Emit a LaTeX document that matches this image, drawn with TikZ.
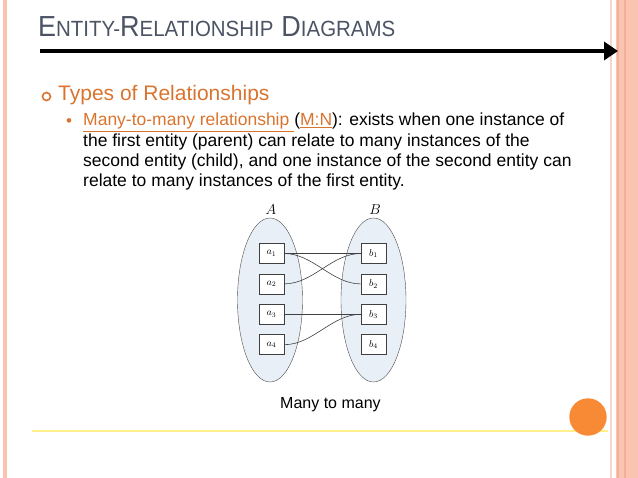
\documentclass[tikz,border=0pt]{standalone}
\usepackage{fontspec}
\setmainfont{Liberation Sans}
\newfontfamily\titlefont[FakeStretch=0.93]{Liberation Sans}
\usepackage{tikz}
\usetikzlibrary{positioning,shapes.geometric,arrows.meta}

\definecolor{titlegray}{HTML}{4B5364}
\definecolor{accent}{HTML}{D9742E}
\definecolor{stripe}{HTML}{FAC4B1}
\definecolor{stripedark}{HTML}{F2AE96}
\definecolor{setfill}{HTML}{E9EFF7}
\definecolor{dotorange}{HTML}{F88A36}
\definecolor{rule}{HTML}{FFF08C}

\newcommand\capsword[2]{{\fontsize{29}{29}\selectfont #1}{\fontsize{22}{22}\selectfont #2}}

\begin{document}
\begin{tikzpicture}[x=1pt, y=-1pt,
  txt/.style={inner sep=0pt, anchor=base west},
  elem/.style={draw=black!75, fill=white, minimum width=25pt, minimum height=20pt, inner sep=0pt, font=\normalsize},
  set/.style={draw=black!70, fill=setfill, ellipse, minimum width=65pt, minimum height=164pt, inner sep=0pt},
  link/.style={draw=black!75, line width=0.6pt}]
\useasboundingbox (0,0) rectangle (638,478);

% page borders
\fill[stripe] (3,0) rectangle (7,478);
\fill[stripe!70] (610,0) rectangle (612,478);
\fill[stripe] (616,0) rectangle (638,478);
\fill[stripedark] (617,0) rectangle (619,478);
\fill[stripedark] (624,0) rectangle (626,478);

% title
\node[txt, text=titlegray, font=\titlefont] (title) at (38,36.5)
  {\capsword{E}{NTITY}\capsword{}{-}\capsword{R}{ELATIONSHIP}\hspace{8pt}\capsword{D}{IAGRAMS}};
\coordinate (arrowstart) at (40,51);
\coordinate (arrowend) at (618,51);
\draw[line width=4.5pt, -{Triangle[length=14pt,width=18pt]}] (arrowstart) -- (arrowend);

% bullets
\node[draw=accent, line width=1.6pt, circle, minimum size=8pt, inner sep=0pt] (dot1) at (46.5,96.5) {};
\node[txt, text=accent, font=\fontsize{21}{21}\selectfont] (types) at (58,100.7) {Types of Relationships};
\node[txt, text=accent, font=\fontsize{17}{17}\selectfont] (dot2) at (66,126.5) {\textbullet};
\node[txt, anchor=north west, align=left, font=\fontsize{17.5}{20.3}\selectfont] (desc) at (83,113)
  {\textcolor{accent}{\underline{Many-to-many relationship }}(\textcolor{accent}{\underline{M:N}}): exists when one instance of\\
   the first entity (parent) can relate to many instances of the\\
   second entity (child), and one instance of the second entity can\\
   relate to many instances of the first entity.};

% sets
\node[set] (setA) at (270,300) {};
\node[set] (setB) at (373.5,300) {};
\node[font=\fontsize{14}{14}\selectfont] (labA) at (271,210) {$A$};
\node[font=\fontsize{14}{14}\selectfont] (labB) at (375,210) {$B$};

\node[elem] (a1) at (271.5,253.5) {$a_1$};
\node[elem, below=10pt of a1] (a2) {$a_2$};
\node[elem, below=10pt of a2] (a3) {$a_3$};
\node[elem, below=10pt of a3] (a4) {$a_4$};
\node[elem, right=76.5pt of a1] (b1) {$b_1$};
\node[elem, below=10pt of b1] (b2) {$b_2$};
\node[elem, below=10pt of b2] (b3) {$b_3$};
\node[elem, below=10pt of b3] (b4) {$b_4$};

\draw[link] (a1.east) -- (b1.west);
\draw[link] (a1.east) to[out=0, in=180, looseness=0.9] (b2.west);
\draw[link] (a2.east) to[out=0, in=180, looseness=0.9] (b1.west);
\draw[link] (a3.east) -- (b3.west);
\draw[link] (a4.east) to[out=0, in=180, looseness=0.9] (b3.west);

\node[txt, font=\fontsize{16}{16}\selectfont] (caption) at (280,409) {Many to many};

% footer
\coordinate (rulestart) at (32,431);
\coordinate (ruleend) at (608,431);
\draw[rule, line width=1.5pt] (rulestart) -- (ruleend);
\fill[dotorange] (588,417) circle (18.7);
\end{tikzpicture}
\end{document}
